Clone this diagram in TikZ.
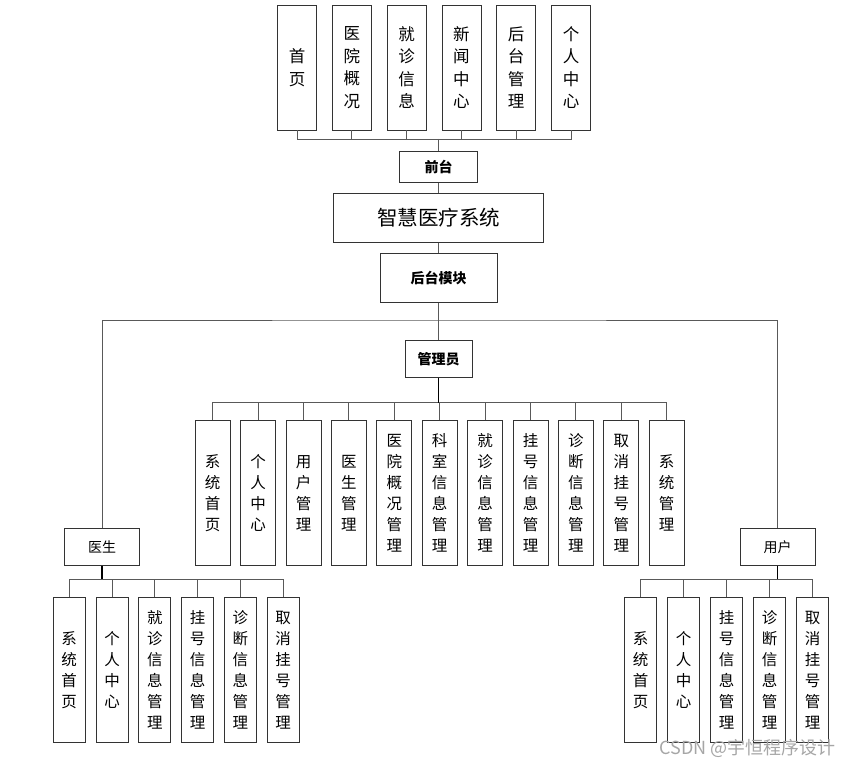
\documentclass[tikz,border=0pt]{standalone}
\usepackage{fontspec}
\setmainfont{Noto Sans CJK SC}
\begin{document}
\begin{tikzpicture}[x=1pt,y=-1pt,
    box/.style={draw=black!80,line width=0.8pt,fill=white,inner sep=0pt,align=center},
    topbox/.style={box,minimum width=39pt,minimum height=125pt,font=\fontsize{16.5}{22.5}\selectfont},
    subbox/.style={box,minimum width=35pt,minimum height=145pt,font=\fontsize{15.5}{21}\selectfont},
    leafbox/.style={box,minimum width=32pt,minimum height=145pt,font=\fontsize{15.5}{21}\selectfont},
    headbox/.style={box,font=\fontsize{14}{14}\selectfont\bfseries},
    rolebox/.style={box,minimum width=75pt,minimum height=37pt,font=\fontsize{14}{14}\selectfont},
    link/.style={draw=black!65,line width=0.9pt}]
    \useasboundingbox (0,0) rectangle (854,767);
    % Hauptkette
    \node[headbox,minimum width=78pt,minimum height=31pt] (qiantai) at (438.5,167) {前台};
    \node[box,minimum width=210pt,minimum height=49pt,font=\fontsize{20.5}{20.5}\selectfont] (sys) at (438.5,217.8) {智慧医疗系统};
    \node[headbox,minimum width=117pt,minimum height=49pt] (houtai) at (438.5,277.8) {后台模块};
    \node[headbox,minimum width=67pt,minimum height=37pt] (admin) at (438.5,358.7) {管理员};
    \node[rolebox] (doctor) at (102,547.3) {医生};
    \node[rolebox] (user) at (777.5,547.3) {用户};
    \draw[link] (qiantai.south) -- (sys.north);
    \draw[link] (sys.south) -- (houtai.north);
    \coordinate (split) at (438.5,320);
    \draw[link] (houtai.south) -- (split);
    \draw[link] (doctor.north) |- (split) -| (user.north);
    \draw[link] (split) -- (admin.north);
    % Front-end
    \foreach \t [count=\i] in {{首\\页},{医\\院\\概\\况},{就\\诊\\信\\息},{新\\闻\\中\\心},{后\\台\\管\\理},{个\\人\\中\\心}}
        {
            \node[topbox] (f\i) at ({297+(\i-1)*54.8},67.5) {\t};
        }
    \coordinate (fbus) at (438.5,139);
    \foreach \i in {1,...,6}
        \draw[link] (f\i.south) |- (fbus);
    \draw[link] (fbus) -- (qiantai.north);
    % Admin
    \foreach \t [count=\i] in {{系\\统\\首\\页},{个\\人\\中\\心},{用\\户\\管\\理},{医\\生\\管\\理},{医\\院\\概\\况\\管\\理},{科\\室\\信\\息\\管\\理},{就\\诊\\信\\息\\管\\理},{挂\\号\\信\\息\\管\\理},{诊\\断\\信\\息\\管\\理},{取\\消\\挂\\号\\管\\理},{系\\统\\管\\理}}
        {
            \node[subbox] (a\i) at ({212.7+(\i-1)*45.4},493.2) {\t};
        }
    \coordinate (abus) at (438.5,402.7);
    \foreach \i in {1,...,11}
        \draw[link] (a\i.north) |- (abus);
    \draw[link,draw=black,line width=1.3pt] (admin.south) -- (abus);
    % Arzt
    \foreach \t [count=\i] in {{系\\统\\首\\页},{个\\人\\中\\心},{就\\诊\\信\\息\\管\\理},{挂\\号\\信\\息\\管\\理},{诊\\断\\信\\息\\管\\理},{取\\消\\挂\\号\\管\\理}}
        {
            \node[leafbox] (d\i) at ({69.2+(\i-1)*42.8},670.2) {\t};
        }
    \coordinate (dbus) at (102,579.3);
    \foreach \i in {1,...,6}
        \draw[link] (d\i.north) |- (dbus);
    \draw[link,draw=black,line width=1.3pt] (doctor.south) -- (dbus);
    % Nutzer
    \foreach \t [count=\i] in {{系\\统\\首\\页},{个\\人\\中\\心},{挂\\号\\信\\息\\管\\理},{诊\\断\\信\\息\\管\\理},{取\\消\\挂\\号\\管\\理}}
        {
            \node[leafbox] (u\i) at ({640.5+(\i-1)*43},670.2) {\t};
        }
    \coordinate (ubus) at (777.5,579.3);
    \foreach \i in {1,...,5}
        \draw[link] (u\i.north) |- (ubus);
    \draw[link,draw=black,line width=1.3pt] (user.south) -- (ubus);
    \node[anchor=east,text=black!35,font=\fontsize{18}{18}\selectfont] (mark) at (839,748) {CSDN @宇恒程序设计};
\end{tikzpicture}
\end{document}
